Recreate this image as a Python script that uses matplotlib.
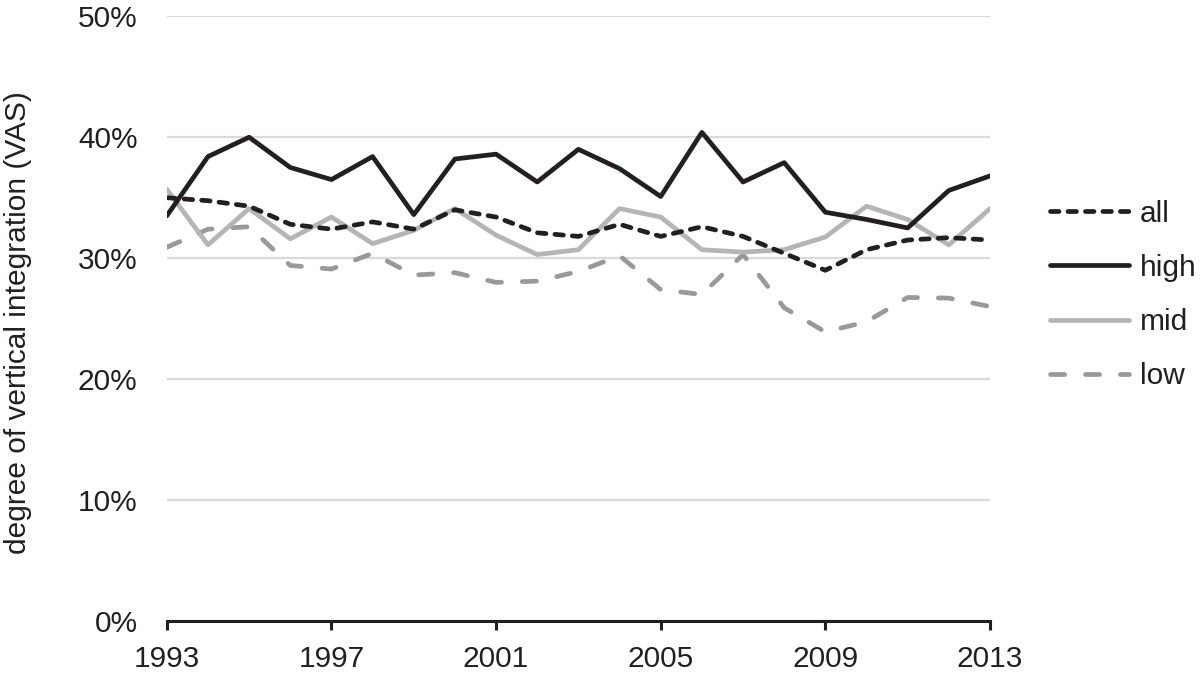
import matplotlib
matplotlib.use("Agg")
import matplotlib.pyplot as plt
from matplotlib.ticker import FuncFormatter

plt.rcParams['font.family'] = ['Liberation Sans', 'DejaVu Sans']

years = list(range(1993, 2014))
all_vals = [35.0, 34.75, 34.3, 32.8, 32.4, 33.0, 32.4, 34.0, 33.4, 32.1, 31.8,
            32.8, 31.8, 32.6, 31.8, 30.4, 29.0, 30.7, 31.5, 31.7, 31.5]
high_vals = [33.5, 38.4, 40.0, 37.5, 36.5, 38.4, 33.6, 38.2, 38.6, 36.3, 39.0,
             37.4, 35.1, 40.4, 36.3, 37.9, 33.8, 33.2, 32.5, 35.6, 36.8]
mid_vals = [35.7, 31.1, 34.1, 31.6, 33.4, 31.2, 32.3, 34.1, 31.9, 30.3, 30.7,
            34.1, 33.4, 30.7, 30.5, 30.7, 31.75, 34.3, 33.2, 31.1, 34.1]
low_vals = [30.9, 32.4, 32.6, 29.4, 29.1, 30.4, 28.6, 28.8, 28.0, 28.1, 28.9,
            30.2, 27.4, 27.0, 30.3, 25.9, 23.9, 24.75, 26.75, 26.7, 26.0]

series_labels = ['all', 'high', 'mid', 'low']
x_ticks = [1993, 1997, 2001, 2005, 2009, 2013]
y_ticks = [0, 10, 20, 30, 40, 50]

TXT = '#231f20'
FS = 21.5

fig = plt.figure(figsize=(12, 6.78), dpi=100)
ax = fig.add_axes([0.139, 0.084, 0.686, 0.892])

lw = 3.4
l_all, = ax.plot(years, all_vals, color='#231f20', lw=lw, dashes=(1.8, 1.9),
                 dash_capstyle='round', label=series_labels[0], zorder=4)
l_high, = ax.plot(years, high_vals, color='#231f20', lw=lw,
                  solid_capstyle='round', label=series_labels[1], zorder=5)
l_mid, = ax.plot(years, mid_vals, color='#b5b5b5', lw=lw,
                 solid_capstyle='round', label=series_labels[2], zorder=3)
l_low, = ax.plot(years, low_vals, color='#98999b', lw=lw, dashes=(3.0, 4.4),
                 dash_capstyle='round', label=series_labels[3], zorder=2)

ax.set_xlim(1993, 2013)
ax.set_ylim(0, 50)
ax.set_xticks(x_ticks)
ax.set_yticks(y_ticks)
ax.yaxis.set_major_formatter(FuncFormatter(lambda v, p: f"{int(v)}%"))

ax.grid(axis='y', color='#dadada', lw=1.6)
ax.set_axisbelow(True)
for s in ['top', 'right', 'left']:
    ax.spines[s].set_visible(False)
ax.spines['bottom'].set_color(TXT)
ax.spines['bottom'].set_linewidth(2.2)
ax.tick_params(axis='x', direction='out', length=6.5, width=2.2, color=TXT,
               labelsize=FS, labelcolor=TXT, pad=10.5)
ax.tick_params(axis='y', length=0, labelsize=FS, labelcolor=TXT, pad=21)

ax.set_ylabel('degree of vertical integration (VAS)', fontsize=FS, color=TXT)
ax.yaxis.set_label_coords(-0.164, 0.494)

fig.legend(handles=[l_all, l_high, l_mid, l_low], loc='center left',
           bbox_to_anchor=(0.875, 0.565), frameon=False, fontsize=FS,
           handlelength=2.65, handletextpad=0.35, labelspacing=0.88,
           borderpad=0, borderaxespad=0, labelcolor=TXT)

fig.savefig('out.png', dpi=100, facecolor='white')
